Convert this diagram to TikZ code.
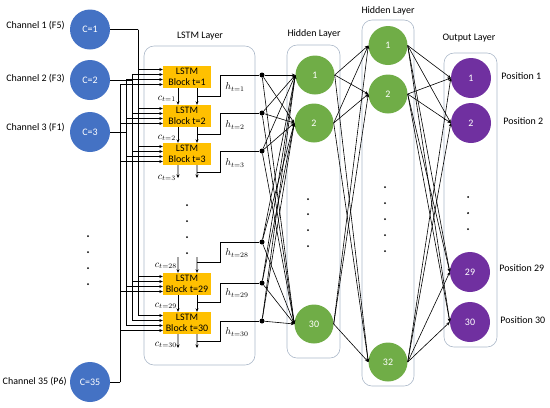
\documentclass[tikz,border=0pt]{standalone}
\usepackage{fontspec}
\setmainfont{Carlito}
\usetikzlibrary{arrows.meta,positioning}

\definecolor{chblue}{HTML}{4472C4}
\definecolor{hidgreen}{HTML}{70AD47}
\definecolor{outpurple}{HTML}{7030A0}
\definecolor{lstmorange}{HTML}{FFC000}
\definecolor{boxgray}{RGB}{170,183,200}

\tikzset{
  channel/.style={circle,fill=chblue,text=white,minimum size=40bp,inner sep=0pt},
  hidden/.style={circle,fill=hidgreen,text=white,minimum size=39bp,inner sep=0pt},
  outnode/.style={circle,fill=outpurple,text=white,minimum size=40bp,inner sep=0pt},
  lstmblock/.style={fill=lstmorange,minimum width=48bp,minimum height=22bp,inner sep=0pt,
    align=center,font=\fontsize{10}{10.5}\selectfont},
  layerbox/.style={draw=boxgray,rounded corners=10bp,line width=0.6pt},
  wire/.style={line width=0.6pt},
  arr/.style={wire,-{Stealth[length=3.5pt,width=3pt]}},
  junction/.style={circle,fill=black,inner sep=0pt,minimum size=5bp},
  vdot/.style={circle,fill=black,inner sep=0pt,minimum size=2bp},
  lbl/.style={inner sep=1pt}
}

\begin{document}
\begin{tikzpicture}[x=1bp,y=-1bp,font=\fontsize{10}{12}\selectfont]
\useasboundingbox (0,0) rectangle (550,407);

% layer boxes
\draw[layerbox] (144,46) rectangle (255,365);
\draw[layerbox] (287,45) rectangle (340,358);
\draw[layerbox] (362,20) rectangle (414,386);
\draw[layerbox] (444,53) rectangle (497,347);

\node(lstmtitle) at (200,36) {LSTM Layer};
\node(hidAtitle) at (314,34) {Hidden Layer};
\node(hidBtitle) at (388,11) {Hidden Layer};
\node(outtitle) at (469,38) {Output Layer};

% input channels
\node[channel](c1) at (90,29.5) {C=1};
\node[channel](c2) at (90,80) {C=2};
\node[channel](c3) at (90,132) {C=3};
\node[channel](c35) at (90,382) {C=35};

\node[lbl,left=4bp of c1,yshift=4bp] {Channel 1 (F5)};
\node[lbl,left=4bp of c2,yshift=1bp] {Channel 2 (F3)};
\node[lbl,left=4bp of c3,yshift=4bp] {Channel 3 (F1)};
\node[lbl,left=2bp of c35] {Channel 35 (P6)};

\foreach \y in {236,252,268,284} \node[vdot] at (88,\y) {};

% LSTM blocks
\node[lstmblock](blk1) at (187,77) {LSTM\\Block t=1};
\node[lstmblock](blk2) at (187,116) {LSTM\\Block t=2};
\node[lstmblock](blk3) at (187,154) {LSTM\\Block t=3};
\node[lstmblock](blk29) at (187,284) {LSTM\\Block t=29};
\node[lstmblock](blk30) at (187,323) {LSTM\\Block t=30};

\foreach \y in {205,221,237,253} \node[vdot] at (187,\y) {};

% buses from the channels
\coordinate(bus1) at (138,29.5);
\coordinate(bus2) at (132,80);
\coordinate(bus3) at (126,132);
\coordinate(bus35) at (120,382);
\draw[wire] (c1) -- (bus1);
\draw[wire] (c2) -- (bus2);
\draw[wire] (c3) -- (bus3);
\draw[wire] (c35) -- (bus35);

\foreach \b in {blk1,blk2,blk3,blk29,blk30} {
  \draw[arr] (bus1) |- ([yshift=7.5bp]\b.west);
  \draw[arr] (bus2) |- ([yshift=2.5bp]\b.west);
  \draw[arr] (bus3) |- ([yshift=-2.5bp]\b.west);
  \draw[arr] (bus35) |- ([yshift=-7.5bp]\b.west);
}

% cell state and hidden state between blocks
\coordinate(c3end) at (178,178);
\coordinate(h3end) at (197,178);
\coordinate(c28) at (178,257);
\coordinate(h28) at (197,257);
\coordinate(c30end) at (178,348);
\coordinate(h30end) at (197,348);

\draw[arr] ([xshift=-9bp]blk1.south) -- ([xshift=-9bp]blk2.north);
\draw[arr] ([xshift=10bp]blk1.south) -- ([xshift=10bp]blk2.north);
\draw[arr] ([xshift=-9bp]blk2.south) -- ([xshift=-9bp]blk3.north);
\draw[arr] ([xshift=10bp]blk2.south) -- ([xshift=10bp]blk3.north);
\draw[arr] ([xshift=-9bp]blk3.south) -- (c3end);
\draw[arr] ([xshift=10bp]blk3.south) -- (h3end);
\draw[arr] (c28) -- ([xshift=-9bp]blk29.north);
\draw[arr] (h28) -- ([xshift=10bp]blk29.north);
\draw[arr] ([xshift=-9bp]blk29.south) -- ([xshift=-9bp]blk30.north);
\draw[arr] ([xshift=10bp]blk29.south) -- ([xshift=10bp]blk30.north);
\draw[arr] ([xshift=-9bp]blk30.south) -- (c30end);
\draw[arr] ([xshift=10bp]blk30.south) -- (h30end);

\node[lbl,anchor=east] at (177,99) {$c_{t=1}$};
\node[lbl,anchor=east] at (177,138) {$c_{t=2}$};
\node[lbl,anchor=east] at (177,178) {$c_{t=3}$};
\node[lbl,anchor=east] at (178,266) {$c_{t=28}$};
\node[lbl,anchor=east] at (178,306) {$c_{t=29}$};
\node[lbl,anchor=east] at (178,345) {$c_{t=30}$};

% junctions
\node[junction](j1) at (262,75) {};
\node[junction](j2) at (262,113) {};
\node[junction](j3) at (262,151) {};
\node[junction](j28) at (262,242) {};
\node[junction](j29) at (262,283) {};
\node[junction](j30) at (262,321) {};

\draw[wire] (j1) -- ++(-42,0) |- ([xshift=10bp,yshift=-8bp]blk1.south);
\draw[wire] (j2) -- ++(-42,0) |- ([xshift=10bp,yshift=-7bp]blk2.south);
\draw[wire] (j3) -- ++(-42,0) |- ([xshift=10bp,yshift=-7bp]blk3.south);
\draw[wire] (j28) -- ++(-42,0) |- ([yshift=-5bp]h28);
\draw[wire] (j29) -- ++(-42,0) |- ([xshift=10bp,yshift=-7bp]blk29.south);
\draw[wire] (j30) -- ++(-42,0) |- ([xshift=10bp,yshift=-7bp]blk30.south);

\node[lbl] at (235,87) {$h_{t=1}$};
\node[lbl] at (235,125) {$h_{t=2}$};
\node[lbl] at (235,163) {$h_{t=3}$};
\node[lbl] at (237,253) {$h_{t=28}$};
\node[lbl] at (237,293) {$h_{t=29}$};
\node[lbl] at (237,332) {$h_{t=30}$};

% dense layers
\node[hidden](hA1) at (315,75) {1};
\node[hidden](hA2) at (314,123) {2};
\node[hidden](hA30) at (314,324) {30};
\foreach \y in {199,214,230,246} \node[vdot] at (308,\y) {};

\node[hidden](hB1) at (388,45.5) {1};
\node[hidden](hB2) at (388,94) {2};
\node[hidden](hB32) at (388,362) {32};
\foreach \y in {187,203,219,235,251} \node[vdot] at (385,\y) {};

\node[outnode](o1) at (471,78) {1};
\node[outnode](o2) at (471,123) {2};
\node[outnode](o29) at (470,272) {29};
\node[outnode](o30) at (470,322) {30};
\foreach \y in {197,213,229} \node[vdot] at (468,\y) {};

\node[lbl,right=9bp of o1,yshift=2bp] {Position 1};
\node[lbl,right=11bp of o2,yshift=2bp] {Position 2};
\node[lbl,right=8bp of o29,yshift=4bp] {Position 29};
\node[lbl,right=9bp of o30,yshift=2bp] {Position 30};

\foreach \j in {j1,j2,j3,j28,j29,j30}
  \foreach \h in {hA1,hA2,hA30}
    \draw[arr] (\j) -- (\h.west);
\foreach \a in {hA1,hA2,hA30}
  \foreach \b in {hB1,hB2,hB32}
    \draw[arr] (\a.east) -- (\b.west);
\foreach \b in {hB1,hB2,hB32}
  \foreach \o in {o1,o2,o29,o30}
    \draw[arr] (\b.east) -- (\o.west);

\end{tikzpicture}
\end{document}
